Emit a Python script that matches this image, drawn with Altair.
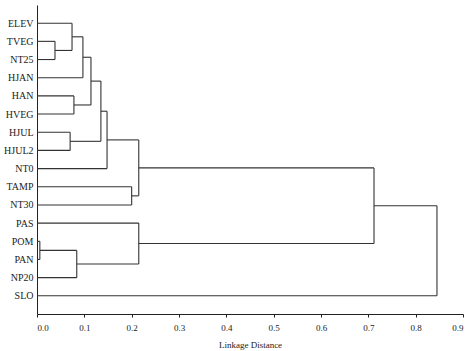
import altair as alt
import pandas as pd

# Leaves in display order (top to bottom)
leaves = ["ELEV", "TVEG", "NT25", "HJAN", "HAN", "HVEG", "HJUL", "HJUL2",
          "NT0", "TAMP", "NT30", "PAS", "POM", "PAN", "NP20", "SLO"]

# Merges: (left child, right child, linkage distance); children are leaf names or merge ids "m<k>"
merge_left = ["TVEG", "ELEV", "m1", "HAN", "m2", "HJUL", "m4", "m6", "TAMP", "m7",
              "POM", "m10", "PAS", "m9", "m13"]
merge_right = ["NT25", "m0", "HJAN", "HVEG", "m3", "HJUL2", "m5", "NT0", "NT30", "m8",
               "PAN", "NP20", "m11", "m12", "SLO"]
merge_height = [0.038, 0.074, 0.097, 0.078, 0.114, 0.070, 0.135, 0.148, 0.200, 0.215,
                0.006, 0.084, 0.215, 0.712, 0.845]

pos = {name: i + 1 for i, name in enumerate(leaves)}
hgt = {name: 0.0 for name in leaves}
segs = []
for k, (a, b, h) in enumerate(zip(merge_left, merge_right, merge_height)):
    mid = f"m{k}"
    for c in (a, b):
        segs.append({"x": hgt[c], "x2": h, "y": pos[c], "y2": pos[c]})
    segs.append({"x": h, "x2": h, "y": pos[a], "y2": pos[b]})
    pos[mid] = (pos[a] + pos[b]) / 2
    hgt[mid] = h

df = pd.DataFrame(segs)

label_arr = "[" + ",".join(f"'{n}'" for n in leaves) + "]"

chart = alt.Chart(df).mark_rule(color="#333333", strokeWidth=1.1).encode(
    x=alt.X("x:Q", scale=alt.Scale(domain=[0, 0.9], nice=False, zero=False),
            axis=alt.Axis(values=[round(0.1 * i, 1) for i in range(10)], format=".1f",
                          title="Linkage Distance", grid=False, tickSize=3,
                          labelPadding=6, titlePadding=8)),
    x2="x2:Q",
    y=alt.Y("y:Q", scale=alt.Scale(domain=[0, 17], reverse=True, nice=False, zero=False),
            axis=alt.Axis(values=list(range(1, 17)), labelExpr=f"{label_arr}[datum.value-1]",
                          title=None, grid=False, tickSize=0, labelPadding=4)),
    y2="y2:Q",
).properties(
    width=426, height=309,
    autosize=alt.AutoSizeParams(type="none"),
    padding={"left": 37, "top": 5, "right": 11, "bottom": 37},
).configure_view(stroke=None).configure_axis(
    domainColor="#222222", tickColor="#222222", labelColor="#222222",
    titleColor="#222222", labelFont="Liberation Serif", titleFont="Liberation Serif",
    labelFontSize=9, titleFontSize=9, titleFontWeight="normal",
).configure_axisY(labelFontSize=10)

chart.save("out.html", embed_options={"renderer": "svg", "actions": False})
